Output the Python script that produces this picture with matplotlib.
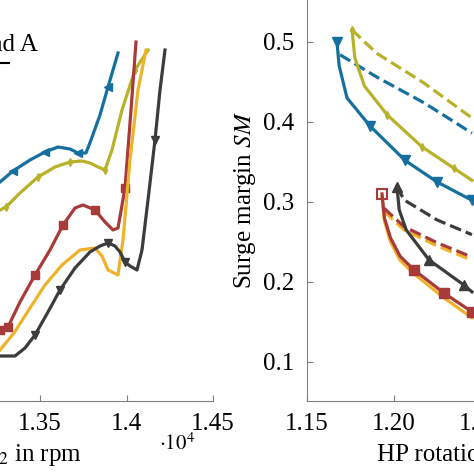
import matplotlib
matplotlib.use("Agg")
import matplotlib.pyplot as plt
from matplotlib.lines import Line2D

plt.rcParams['font.family'] = ['Liberation Serif', 'DejaVu Serif']
plt.rcParams['mathtext.fontset'] = 'stix'

C_BLUE = '#1570a0'; C_OLIVE = '#b8b22a'; C_RED = '#a83a3a'; C_ORANGE = '#eeb32a'; C_GRAY = '#3c3c3c'

# ---- left panel data (x in 10^4 rpm, y arbitrary units, top=0) ----
def px2x(p): return 1.35 + (p - 40) / 1730.0
L_blue_x = [px2x(p) for p in [0, 13, 30, 45, 58, 70, 78, 86, 91, 100, 108, 118]]
L_blue_y = [182, 171, 160, 152, 147, 149, 153, 153, 140, 115, 87, 53]
L_olive_x = [px2x(p) for p in [0, 6, 20, 38, 55, 70, 82, 90, 98, 105, 112, 122, 135, 148]]
L_olive_y = [210, 207, 193, 177, 167, 162, 161, 163, 167, 170, 150, 110, 70, 50]
L_red_x = [px2x(p) for p in [0, 8, 20, 35, 50, 63, 75, 83, 95, 105, 113, 118, 125, 131, 136]]
L_red_y = [330, 327, 302, 275, 250, 225, 208, 205, 210, 222, 230, 228, 188, 110, 42]
L_orange_x = [px2x(p) for p in [0, 14, 30, 45, 62, 80, 95, 102, 108, 118, 123, 130, 138, 146]]
L_orange_y = [350, 333, 308, 285, 265, 250, 248, 256, 270, 275, 240, 160, 90, 50]
L_gray_x = [px2x(p) for p in [0, 15, 25, 35, 48, 60, 75, 90, 100, 108, 115, 120, 125, 130, 137, 142, 148, 155, 160, 165]]
L_gray_y = [356, 356, 348, 335, 312, 290, 268, 252, 246, 243, 246, 252, 262, 266, 270, 250, 200, 140, 90, 50]

# ---- right panel data ----
R_blue_x = [1.1672, 1.1685, 1.173, 1.1862, 1.2063, 1.2247, 1.2448]
R_blue_y = [0.500, 0.470, 0.430, 0.395, 0.352, 0.325, 0.302]
R_blue_dx = [1.1690, 1.1902, 1.2172, 1.2448]
R_blue_dy = [0.484, 0.456, 0.424, 0.386]
R_olive_x = [1.1759, 1.1775, 1.183, 1.196, 1.216, 1.2345, 1.2448]
R_olive_y = [0.515, 0.480, 0.445, 0.409, 0.369, 0.342, 0.327]
R_olive_dx = [1.1759, 1.190, 1.217, 1.2448]
R_olive_dy = [0.515, 0.486, 0.449, 0.405]
R_red_x = [1.1931, 1.1945, 1.198, 1.2035, 1.2115, 1.2287, 1.2448]
R_red_y = [0.310, 0.280, 0.255, 0.232, 0.215, 0.186, 0.1625]
R_orange_x = [1.1931, 1.1945, 1.198, 1.2035, 1.2115, 1.2287, 1.2448]
R_orange_y = [0.306, 0.276, 0.250, 0.227, 0.210, 0.180, 0.155]
R_red_dx = [1.1943, 1.2058, 1.2247, 1.2448]
R_red_dy = [0.292, 0.269, 0.249, 0.231]
R_orange_dx = [1.1943, 1.2058, 1.2247, 1.2448]
R_orange_dy = [0.288, 0.265, 0.245, 0.227]
R_gray_x = [1.2017, 1.2030, 1.207, 1.2201, 1.2402, 1.2448]
R_gray_y = [0.319, 0.290, 0.265, 0.2275, 0.196, 0.1875]
R_gray_dx = [1.2017, 1.2058, 1.2247, 1.2448]
R_gray_dy = [0.319, 0.3025, 0.2775, 0.259]

fig = plt.figure(figsize=(4.74, 4.74), dpi=100)
SP = '#808080'
LW = 2.3
FS = 18

# left axes
axL = fig.add_axes([0, 73/474, 213/474, 401/474])
axL.set_xlim(px2x(0), 1.45)
axL.set_ylim(401, 0)
for s in ['left', 'top', 'right']:
    axL.spines[s].set_visible(False)
axL.spines['bottom'].set_color(SP)
axL.set_yticks([])
axL.set_xticks([1.35, 1.4, 1.45])
axL.set_xticklabels(['1.35', '1.4', '1.45'])
axL.tick_params(axis='x', direction='in', length=4, color=SP, labelsize=FS, pad=9)
axL.plot(L_blue_x, L_blue_y, color=C_BLUE, lw=LW)
mi = [1, 3, 6, 10]
axL.plot([L_blue_x[i] for i in mi], [L_blue_y[i] for i in mi], '<', color=C_BLUE, ms=6)
axL.plot(L_olive_x, L_olive_y, color=C_OLIVE, lw=LW)
mi = [1, 3, 5, 9, 12]
axL.plot([L_olive_x[i] for i in mi], [L_olive_y[i] for i in mi], 'd', color=C_OLIVE, ms=4)
axL.plot(L_red_x, L_red_y, color=C_RED, lw=LW)
mi = [0, 1, 3, 5, 8, 12]
axL.plot([L_red_x[i] for i in mi], [L_red_y[i] for i in mi], 's', color=C_RED, ms=6)
axL.plot(L_orange_x, L_orange_y, color=C_ORANGE, lw=LW)
axL.plot(L_gray_x, L_gray_y, color=C_GRAY, lw=LW)
mi = [3, 5, 9, 12, 17]
axL.plot([L_gray_x[i] for i in mi], [L_gray_y[i] for i in mi], 'v', color=C_GRAY, ms=6)
fig.text(-0.045, 0.905, 'and A', fontsize=FS, ha='left', va='center')
fig.add_artist(Line2D([0, 0.018], [0.868, 0.868], color='k', lw=1.5))
fig.text(-0.04, 0.04, '$N_2$ in rpm', fontsize=FS, ha='left', va='center')
fig.text(0.335, 0.063, r'$\cdot10^4$', fontsize=15, ha='left', va='center')

# right axes
axR = fig.add_axes([307/474, 73/474, 348/474, 401/474])
axR.set_xlim(1.15, 1.35)
axR.set_ylim(0.051, 0.5525)
for s in ['top', 'right']:
    axR.spines[s].set_visible(False)
for s in ['left', 'bottom']:
    axR.spines[s].set_color(SP)
axR.set_yticks([0.1, 0.2, 0.3, 0.4, 0.5])
axR.set_xticks([1.15, 1.2, 1.25, 1.3])
axR.tick_params(direction='in', length=4, color=SP, labelsize=FS, pad=9)
kw = dict(lw=LW)
axR.plot(R_blue_dx, R_blue_dy, '--', color=C_BLUE, **kw)
axR.plot(R_olive_dx, R_olive_dy, '--', color=C_OLIVE, **kw)
axR.plot(R_orange_dx, R_orange_dy, '--', color=C_ORANGE, **kw)
axR.plot(R_red_dx, R_red_dy, '--', color=C_RED, **kw)
axR.plot(R_gray_dx, R_gray_dy, '--', color=C_GRAY, **kw)
axR.plot(R_blue_x, R_blue_y, color=C_BLUE, **kw)
mi = [0, 3, 4, 5, 6]
axR.plot([R_blue_x[i] for i in mi], [R_blue_y[i] for i in mi], 'v', color=C_BLUE, ms=7)
axR.plot(R_olive_x, R_olive_y, color=C_OLIVE, **kw)
mi = [0, 3, 4, 5]
axR.plot([R_olive_x[i] for i in mi], [R_olive_y[i] for i in mi], 'd', color=C_OLIVE, ms=4)
axR.plot(R_orange_x, R_orange_y, color=C_ORANGE, **kw)
axR.plot(R_red_x, R_red_y, color=C_RED, **kw)
axR.plot([R_red_x[0]], [R_red_y[0]], 's', mfc='none', mec=C_RED, mew=1.5, ms=7)
mi = [4, 5, 6]
axR.plot([R_red_x[i] for i in mi], [R_red_y[i] for i in mi], 's', color=C_RED, ms=7)
axR.plot(R_gray_x, R_gray_y, color=C_GRAY, **kw)
mi = [0, 3, 4]
axR.plot([R_gray_x[i] for i in mi], [R_gray_y[i] for i in mi], '^', color=C_GRAY, ms=7)
axR.set_ylabel('Surge margin $SM$', fontsize=FS, labelpad=4)
fig.text(0.795, 0.04, 'HP rotational speed', fontsize=FS, ha='left', va='center')

fig.savefig('out.png', dpi=100)
